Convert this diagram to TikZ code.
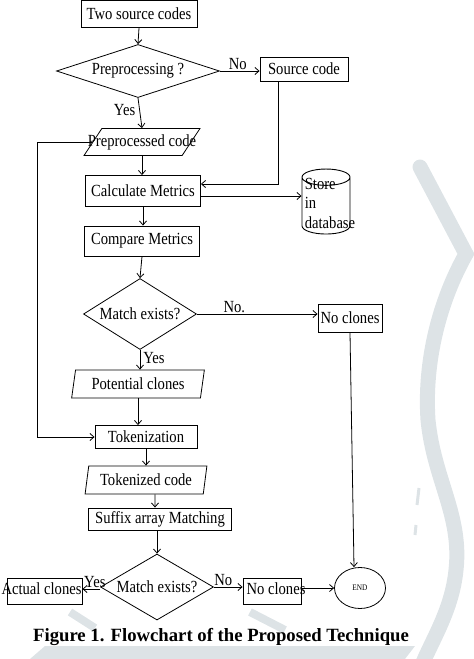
\documentclass[tikz,border=0pt]{standalone}
\usepackage{fontspec}
\setmainfont{Liberation Serif}
\newfontfamily\narrowfont[FakeStretch=0.86]{Liberation Serif}
\usetikzlibrary{shapes.geometric,arrows.meta}
\definecolor{wm}{HTML}{DDE3E6}
\begin{document}
\begin{tikzpicture}[x=1pt,y=-1pt,
  every node/.style={font=\narrowfont\fontsize{17}{20}\selectfont, inner sep=0pt},
  box/.style={draw, rectangle, line width=0.9pt},
  para/.style={draw, trapezium, trapezium left angle=78, trapezium right angle=102, trapezium stretches=true, line width=0.8pt, inner sep=1pt},
  dia/.style={draw, diamond, line width=0.8pt},
  arr/.style={-{Straight Barb[length=4pt,width=7pt]}, line width=0.8pt},
  lbl/.style={inner sep=0pt},
  wmstroke/.style={wm, line width=15pt, line cap=round}]
\useasboundingbox (0,0) rectangle (474,659);
% watermark
\draw[wmstroke] (420,167) -- (466,254) .. controls (440,300) and (424,360) .. (428,420)
  .. controls (434,480) and (462,515) .. (456,570) .. controls (452,610) and (432,640) .. (422,665);
\draw[wm, line width=3pt] (419,488) -- (417,505);
\draw[wm, line width=3pt] (416,525) -- (415,535);
\fill[wm] (30,659) -- (45,646) -- (415,646) -- (405,659) -- cycle;
\draw[wm, line width=8pt] (70,612) -- (95,628);
\draw[wm, line width=8pt] (250,612) -- (285,630);
% nodes
\node[box, minimum width=116pt, minimum height=27pt] (two) at (139,14) {Two source codes};
\node[dia, shape aspect=3.1, minimum width=163pt, minimum height=53pt] (pp) at (138,71) {Preprocessing ?};
\node[box, minimum width=88pt, minimum height=24pt] (src) at (304,69) {Source code};
\node[para, minimum width=116pt, minimum height=27pt, label={[lbl]center:Preprocessed code}] (pre) at (142,142) {\phantom{X}};
\node[box, minimum width=115pt, minimum height=31pt] (calc) at (143,191) {Calculate Metrics};
\node[draw, cylinder, shape border rotate=90, aspect=1.3, line width=0.9pt, inner sep=1pt, minimum width=48pt, minimum height=65pt,
  label={[lbl, align=left, xshift=4pt, yshift=4pt, font=\narrowfont\fontsize{17}{19.5}\selectfont]center:Store\\in\\database}] (db) at (326,207) {\phantom{X}};
\node[box, minimum width=115pt, minimum height=30pt] (cmp) at (142,241) {Compare Metrics};
\node[dia, shape aspect=1.6, minimum width=113pt, minimum height=71pt] (m1) at (140,314) {Match exists?};
\node[box, minimum width=64pt, minimum height=28pt] (nc1) at (350,318) {No clones};
\node[para, minimum width=133pt, minimum height=28pt] (pot) at (138,384) {Potential clones};
\node[box, minimum width=102pt, minimum height=23pt] (tok) at (146,437) {Tokenization};
\node[para, minimum width=122pt, minimum height=28pt] (tokd) at (146,480) {Tokenized code};
\node[box, minimum width=143pt, minimum height=22pt] (suf) at (160,519) {Suffix array Matching};
\node[dia, shape aspect=1.75, minimum width=113pt, minimum height=66pt] (m2) at (157,587) {Match exists?};
\node[box, minimum width=75pt, minimum height=26pt, label={[lbl, xshift=-3pt, yshift=2pt]center:Actual clones}] (act) at (44.5,591) {};
\node[box, minimum width=58pt, minimum height=26pt, label={[lbl, xshift=4pt, yshift=2pt]center:No clones}] (nc2) at (272,591) {};
\node[draw, ellipse, line width=0.8pt, minimum width=51pt, minimum height=41pt, font=\narrowfont\fontsize{8.5}{9}\selectfont] (end) at (360,588) {END};
\node[font=\bfseries\fontsize{18.7}{22}\selectfont] (cap) at (221,637) {Figure 1. Flowchart of the Proposed Technique};
% connectors
\draw[arr] (two.south) -- (pp.north);
\draw[arr] (pp.east) -- node[above, pos=0.45, inner sep=1pt] {No} (pp.east -| src.west);
\draw[arr] (pp.south) -- node[left, pos=0.4, inner sep=4pt] {Yes} (pre.north);
\draw[arr] ([xshift=-26pt]src.south) |- ([yshift=7pt]calc.east);
\draw[arr] (pre.west) -- ++(-55,0) |- (tok.west);
\draw[arr] (pre.south) -- (pre.south |- calc.north);
\draw[arr] ([yshift=-5pt]calc.east) -- ([yshift=-5pt]calc.east -| db.west);
\draw[arr] (calc.south) -- (calc.south |- cmp.north);
\draw[arr] (cmp.south) -- (m1.north);
\draw[arr] (m1.east) -- node[above, pos=0.31, inner sep=1pt] {No.} (m1.east -| nc1.west);
\draw[arr] (m1.south) -- node[right, pos=0.4, inner sep=3pt] {Yes} (m1.south |- pot.north);
\draw[arr] (pot.south) -- (pot.south |- tok.north);
\draw[arr] (tok.south) -- (tok.south |- tokd.north);
\draw[arr] ([xshift=9pt]tokd.south) -- ([xshift=-5pt]suf.north);
\draw[arr] (m2.north |- suf.south) -- (m2.north);
\draw[arr] ([yshift=-2pt]m2.west) -- node[above, pos=0.3, inner sep=1pt] {Yes} ([yshift=-2pt]m2.west -| act.east);
\draw[arr] (m2.east) -- node[above, pos=0.33, inner sep=1pt] {No} (m2.east -| nc2.west);
\draw[arr] (nc2.east |- end.west) -- (end.west);
\draw[arr] (nc1.south) -- ([xshift=-6pt]end.north);
\end{tikzpicture}
\end{document}
